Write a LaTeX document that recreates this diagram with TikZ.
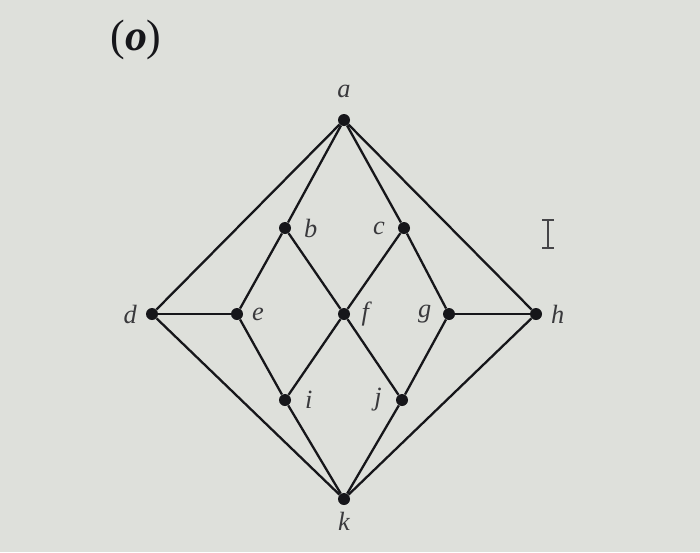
\documentclass[tikz,border=0pt]{standalone}
\usepackage{fontspec}
\setmainfont{Liberation Serif}
\usepackage{tikz}
\usetikzlibrary{positioning}
\definecolor{paper}{RGB}{222,224,219}
\definecolor{ink}{RGB}{22,22,26}

\begin{document}
\begin{tikzpicture}[
    x=0.02cm, y=-0.02cm,
    vertex/.style={circle, fill=ink, inner sep=0pt, minimum size=0.24cm},
    lbl/.style={font=\fontsize{15}{18}\selectfont\itshape, text=ink!85, inner sep=2pt},
    edge/.style={draw=ink, line width=1.3pt}
]
\fill[paper] (0,0) rectangle (700,552);
\useasboundingbox (0,0) rectangle (700,552);

\node[font=\fontsize{25}{28}\selectfont, text=ink] (title) at (136,40) {(\textbf{\textit{o}})};

% vertices
\node[vertex] (a) at (344,120) {};
\node[vertex] (b) at (285,228) {};
\node[vertex] (c) at (404,228) {};
\node[vertex] (d) at (152,314) {};
\node[vertex] (e) at (237,314) {};
\node[vertex] (f) at (344,314) {};
\node[vertex] (g) at (449,314) {};
\node[vertex] (h) at (536,314) {};
\node[vertex] (i) at (285,400) {};
\node[vertex] (j) at (402,400) {};
\node[vertex] (k) at (344,499) {};

% labels
\node[lbl, above=0.25cm of a] (la) {a};
\node[lbl, right=0.18cm of b] (lb) {b};
\node[lbl, left=0.18cm of c] (lc) {c};
\node[lbl, left=0.1cm of d] (ld) {d};
\node[lbl, right=0.1cm of e] (le) {e};
\node[lbl, right=0.15cm of f] (lf) {f};
\node[lbl, left=0.15cm of g] (lg) {g};
\node[lbl, right=0.1cm of h] (lh) {h};
\node[lbl, right=0.2cm of i] (li) {i};
\node[lbl, left=0.2cm of j] (lj) {j};
\node[lbl, below=0.05cm of k] (lk) {k};

% edges
\draw[edge] (a) -- (b);
\draw[edge] (a) -- (c);
\draw[edge] (a) -- (d);
\draw[edge] (a) -- (h);
\draw[edge] (b) -- (e);
\draw[edge] (b) -- (f);
\draw[edge] (c) -- (f);
\draw[edge] (c) -- (g);
\draw[edge] (d) -- (e);
\draw[edge] (d) -- (k);
\draw[edge] (e) -- (i);
\draw[edge] (f) -- (i);
\draw[edge] (f) -- (j);
\draw[edge] (g) -- (j);
\draw[edge] (g) -- (h);
\draw[edge] (h) -- (k);
\draw[edge] (i) -- (k);
\draw[edge] (j) -- (k);

% text cursor
\draw[ink!80, line width=0.9pt] (548,221) -- (548,247)
  (542,220) -- (554,220) (542,248) -- (554,248);
\end{tikzpicture}
\end{document}
